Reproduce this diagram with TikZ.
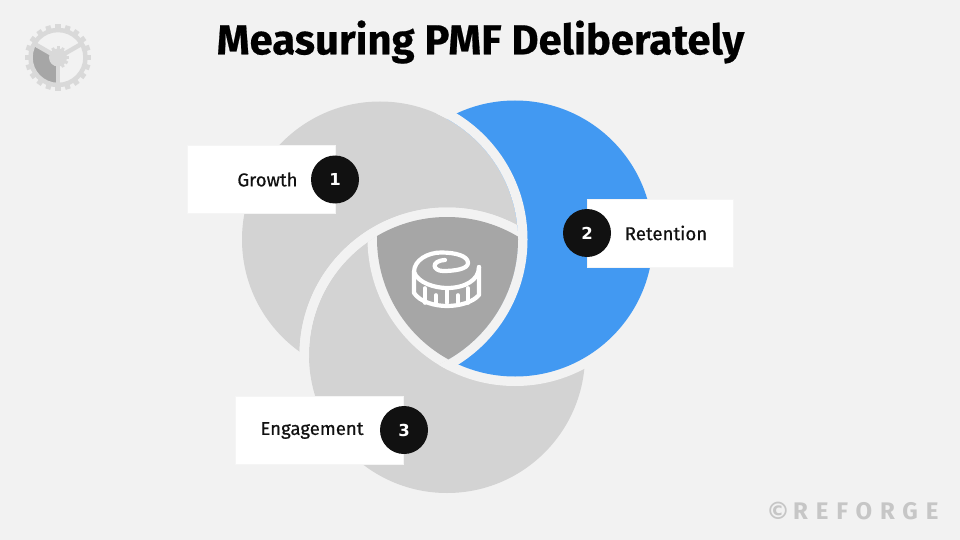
\documentclass[tikz,border=0pt]{standalone}
\usepackage{fontspec}
\setmainfont[BoldFeatures={FakeBold=0.45}]{Fira Sans}
\newfontfamily\numfont{DejaVu Sans}
\newfontfamily\labelfont[FakeBold=0.5]{Fira Sans}
\newfontfamily\logofont[LetterSpace=33]{Fira Sans}
\definecolor{bgc}{HTML}{f2f2f2}
\definecolor{lgray}{HTML}{d3d3d3}
\definecolor{mgray}{HTML}{a6a6a6}
\definecolor{gearc}{HTML}{d9d9d9}
\definecolor{bl}{HTML}{4299f2}
\definecolor{numc}{HTML}{111111}
\definecolor{logoc}{HTML}{c6c6c6}
\tikzset{
  labelbox/.style={fill=white,draw=black!4,line width=0.5pt,anchor=north west,minimum height=67.5pt},
  labeltext/.style={font=\labelfont\fontsize{18.6}{20}\selectfont,text=numc},
  numdot/.style={circle,fill=numc,text=white,minimum size=48pt,inner sep=0pt,font=\numfont\fontsize{16.5}{18}\selectfont\bfseries},
  icon/.style={draw=white,line width=4.2pt,line cap=round,line join=round},
}
\begin{document}
\begin{tikzpicture}[x=1pt,y=-1pt]
  \useasboundingbox[fill=bgc] (0,0) rectangle (960,540);
  \node (title) at (480.5,42) {\fontsize{41.8}{46}\selectfont\bfseries Measuring PMF Deliberately};
  % logo
  \coordinate (gear) at (58,57.5);
  \foreach \a in {0,18,...,342}
    \fill[gearc] (gear) ++(\a:27) ++(\a+90:2.6) -- ++(\a:6.2) -- ++(\a-90:5.2) -- ++(\a:-6.2) -- cycle;
  \foreach \a in {0,30,...,330}
    \fill[gearc] (gear) ++(\a:8) ++(\a+90:1.5) -- ++(\a:3) -- ++(\a-90:3) -- ++(\a:-3) -- cycle;
  \fill[mgray] (gear) -- ++(205:26) arc[start angle=205,end angle=90,radius=26] -- cycle;
  \draw[gearc,line width=4.5pt] (gear) circle (27.5);
  \foreach \a in {90,-30,210}
    \draw[gearc,line width=4.5pt] (gear) -- ++(\a:27);
  \fill[gearc] (gear) circle (9);
  % circles
  \def\rin{138}
  \def\rout{147.5}
  \coordinate (g) at (380,239.5);
  \coordinate (r) at (515,238.5);
  \coordinate (e) at (447,355);
  \fill[lgray] (g) circle (\rin);
  \fill[bgc] (e) circle (\rout);
  \fill[lgray] (e) circle (\rin);
  \begin{scope}[even odd rule]
    \clip (0,0) rectangle (960,540) (g) circle (\rin);
    \fill[bgc] (r) circle (\rout);
    \fill[bl] (r) circle (\rin);
  \end{scope}
  \begin{scope}
    \clip (r) circle (\rout);
    \draw[bgc,line width=9.5pt] (g) circle (142.75);
  \end{scope}
  \begin{scope}
    \clip (g) circle (\rin);
    \draw[bgc,line width=9.5pt] (e) circle (142.75);
    \clip (e) circle (\rin);
    \fill[bgc] (r) circle (\rout);
    \fill[mgray] (r) circle (\rin);
  \end{scope}
  % tape measure
  \draw[icon] (414,272) -- (414,293) .. controls (420,302) and (435,306) .. (447,306) .. controls (460,306) and (473,302) .. (479,295) -- (479,267);
  \draw[icon] (414,272) .. controls (418,283) and (435,288) .. (447,288) .. controls (465,288) and (479,280) .. (479,267);
  \draw[icon] (414,272) .. controls (414,260) and (428,252.5) .. (441,252.5) .. controls (456,252.5) and (468,256) .. (468,263) .. controls (468,269) and (455,271) .. (443,271) .. controls (433,271) and (430,261) .. (445,260);
  \foreach \x/\y in {425/288,436/295,447/290,458/295,468/288}
    \draw[icon,line width=3.6pt] (\x,\y) -- (\x,303);
  % labels
  \node[labelbox,minimum width=148pt] (growthbox) at (186.5,145.5) {};
  \node[labelbox,minimum width=146pt] (retentionbox) at (586.5,199) {};
  \node[labelbox,minimum width=168pt] (engagementbox) at (234.5,396) {};
  \node[labeltext] (growth) at (267.5,179.5) {Growth};
  \node[labeltext] (retention) at (666,233) {Retention};
  \node[labeltext] (engagement) at (312,430.5) {Engagement};
  \node[numdot] (n1) at (335,179.5) {1};
  \node[numdot] (n2) at (587,233) {2};
  \node[numdot] (n3) at (404,430) {3};
  \node[text=logoc,anchor=east] (reforge) at (942,511) {{\numfont\fontsize{24}{26}\selectfont\bfseries ©}\hspace{3pt}\logofont\fontsize{24}{26}\selectfont\bfseries REFORGE};
\end{tikzpicture}
\end{document}
